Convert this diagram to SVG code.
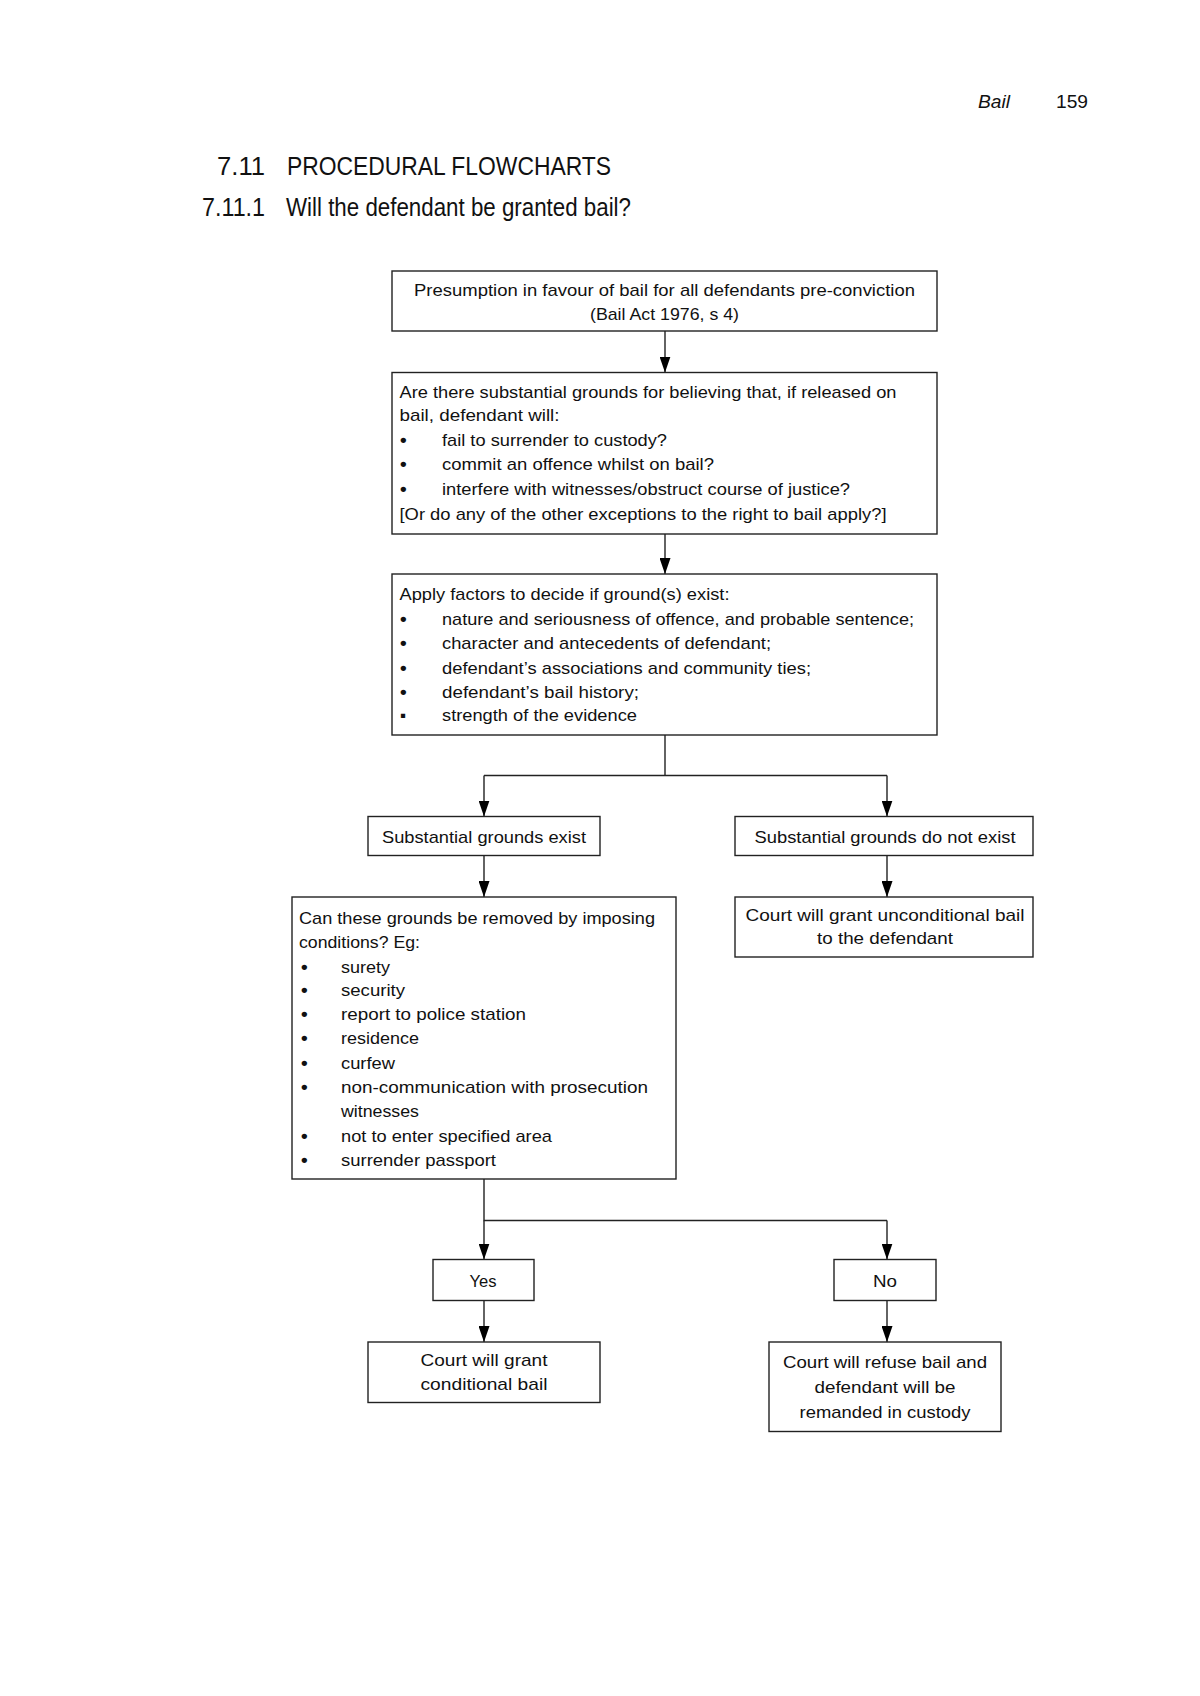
<svg xmlns="http://www.w3.org/2000/svg" width="1200" height="1696" viewBox="0 0 1200 1696">
<defs>
<marker id="ah" markerWidth="16" markerHeight="11" refX="16" refY="5.5" orient="auto" markerUnits="userSpaceOnUse" viewBox="0 0 16 11">
<path d="M0,0 L16,5.5 L0,11 Z" fill="#000"/>
</marker>
</defs>
<style>
text{font-family:"Liberation Sans","DejaVu Sans",sans-serif;fill:#111;}
.t{font-size:17px;}
.c{text-anchor:middle;}
.h{font-size:25px;}
.b{font-size:19px;font-weight:bold;}
.box{fill:#fff;stroke:#222;stroke-width:1.4;}
.ln{fill:none;stroke:#222;stroke-width:1.4;}
.arr{fill:none;stroke:#222;stroke-width:1.4;marker-end:url(#ah);}
</style>
<rect width="1200" height="1696" fill="#fff"/>
<g id="header">
<text x="978" y="108" style="font-style:italic;font-size:19px" textLength="32" lengthAdjust="spacingAndGlyphs">Bail</text>
<text x="1056" y="108" style="font-size:19px" textLength="32" lengthAdjust="spacingAndGlyphs">159</text>
<text x="217" y="175" class="h" textLength="48" lengthAdjust="spacingAndGlyphs">7.11</text>
<text x="287" y="175" class="h" textLength="324" lengthAdjust="spacingAndGlyphs">PROCEDURAL FLOWCHARTS</text>
<text x="202" y="216" class="h" textLength="63" lengthAdjust="spacingAndGlyphs">7.11.1</text>
<text x="286" y="216" class="h" textLength="345" lengthAdjust="spacingAndGlyphs">Will the defendant be granted bail?</text>
</g>
<g id="connectors">
<line class="arr" x1="665" y1="331" x2="665" y2="372.5"/>
<line class="arr" x1="665" y1="534" x2="665" y2="574"/>
<polyline class="ln" points="665,735 665,775.5"/>
<polyline class="ln" points="484,775.5 887,775.5"/>
<line class="arr" x1="484" y1="775.5" x2="484" y2="816.5"/>
<line class="arr" x1="887" y1="775.5" x2="887" y2="816.5"/>
<line class="arr" x1="484" y1="855.5" x2="484" y2="897"/>
<line class="arr" x1="887" y1="855.5" x2="887" y2="897"/>
<polyline class="ln" points="484,1179 484,1220.5 887,1220.5"/>
<line class="arr" x1="484" y1="1220.5" x2="484" y2="1259.5"/>
<line class="arr" x1="887" y1="1220.5" x2="887" y2="1259.5"/>
<line class="arr" x1="484" y1="1300.5" x2="484" y2="1342"/>
<line class="arr" x1="887" y1="1300.5" x2="887" y2="1342"/>
</g>
<g id="n1">
<rect class="box" x="392" y="271" width="545" height="60"/>
<text class="t c" x="664.5" y="296" textLength="501" lengthAdjust="spacingAndGlyphs">Presumption in favour of bail for all defendants pre-conviction</text>
<text class="t c" x="664.5" y="320" textLength="149" lengthAdjust="spacingAndGlyphs">(Bail Act 1976, s 4)</text>
</g>
<g id="n2">
<rect class="box" x="392" y="372.5" width="545" height="161.5"/>
<text class="t" x="399.5" y="397.5" textLength="497" lengthAdjust="spacingAndGlyphs">Are there substantial grounds for believing that, if released on</text>
<text class="t" x="399.5" y="421" textLength="160" lengthAdjust="spacingAndGlyphs">bail, defendant will:</text>
<text class="b" x="400" y="446">•</text><text class="t" x="442" y="446" textLength="225" lengthAdjust="spacingAndGlyphs">fail to surrender to custody?</text>
<text class="b" x="400" y="470">•</text><text class="t" x="442" y="470" textLength="272" lengthAdjust="spacingAndGlyphs">commit an offence whilst on bail?</text>
<text class="b" x="400" y="495">•</text><text class="t" x="442" y="495" textLength="408" lengthAdjust="spacingAndGlyphs">interfere with witnesses/obstruct course of justice?</text>
<text class="t" x="399.5" y="520" textLength="487" lengthAdjust="spacingAndGlyphs">[Or do any of the other exceptions to the right to bail apply?]</text>
</g>
<g id="n3">
<rect class="box" x="392" y="574" width="545" height="161"/>
<text class="t" x="399.5" y="600" textLength="330" lengthAdjust="spacingAndGlyphs">Apply factors to decide if ground(s) exist:</text>
<text class="b" x="400" y="625">•</text><text class="t" x="442" y="625" textLength="472" lengthAdjust="spacingAndGlyphs">nature and seriousness of offence, and probable sentence;</text>
<text class="b" x="400" y="649">•</text><text class="t" x="442" y="649" textLength="329" lengthAdjust="spacingAndGlyphs">character and antecedents of defendant;</text>
<text class="b" x="400" y="673.5">•</text><text class="t" x="442" y="673.5" textLength="369" lengthAdjust="spacingAndGlyphs">defendant’s associations and community ties;</text>
<text class="b" x="400" y="697.5">•</text><text class="t" x="442" y="697.5" textLength="197" lengthAdjust="spacingAndGlyphs">defendant’s bail history;</text>
<text class="t" x="400" y="721">▪</text><text class="t" x="442" y="721" textLength="195" lengthAdjust="spacingAndGlyphs">strength of the evidence</text>
</g>
<g id="n4">
<rect class="box" x="368" y="816.5" width="232" height="39"/>
<text class="t c" x="484" y="842.5" textLength="204" lengthAdjust="spacingAndGlyphs">Substantial grounds exist</text>
</g>
<g id="n5">
<rect class="box" x="735" y="816.5" width="298" height="39"/>
<text class="t c" x="885" y="842.5" textLength="261" lengthAdjust="spacingAndGlyphs">Substantial grounds do not exist</text>
</g>
<g id="n6">
<rect class="box" x="292" y="897" width="384" height="282"/>
<text class="t" x="299" y="924" textLength="356" lengthAdjust="spacingAndGlyphs">Can these grounds be removed by imposing</text>
<text class="t" x="299" y="947.5" textLength="121" lengthAdjust="spacingAndGlyphs">conditions? Eg:</text>
<text class="b" x="301" y="972.5">•</text><text class="t" x="341" y="972.5" textLength="49" lengthAdjust="spacingAndGlyphs">surety</text>
<text class="b" x="301" y="996">•</text><text class="t" x="341" y="996" textLength="64" lengthAdjust="spacingAndGlyphs">security</text>
<text class="b" x="301" y="1020">•</text><text class="t" x="341" y="1020" textLength="185" lengthAdjust="spacingAndGlyphs">report to police station</text>
<text class="b" x="301" y="1044">•</text><text class="t" x="341" y="1044" textLength="78" lengthAdjust="spacingAndGlyphs">residence</text>
<text class="b" x="301" y="1069">•</text><text class="t" x="341" y="1069" textLength="54" lengthAdjust="spacingAndGlyphs">curfew</text>
<text class="b" x="301" y="1093">•</text><text class="t" x="341" y="1093" textLength="307" lengthAdjust="spacingAndGlyphs">non-communication with prosecution</text>
<text class="t" x="341" y="1116.5" textLength="78" lengthAdjust="spacingAndGlyphs">witnesses</text>
<text class="b" x="301" y="1141.5">•</text><text class="t" x="341" y="1141.5" textLength="211" lengthAdjust="spacingAndGlyphs">not to enter specified area</text>
<text class="b" x="301" y="1166">•</text><text class="t" x="341" y="1166" textLength="155" lengthAdjust="spacingAndGlyphs">surrender passport</text>
</g>
<g id="n7">
<rect class="box" x="735" y="897" width="298" height="60"/>
<text class="t c" x="885" y="920.5" textLength="279" lengthAdjust="spacingAndGlyphs">Court will grant unconditional bail</text>
<text class="t c" x="885" y="944" textLength="136" lengthAdjust="spacingAndGlyphs">to the defendant</text>
</g>
<g id="n8">
<rect class="box" x="433" y="1259.5" width="101" height="41"/>
<text class="t c" x="483" y="1286.5" textLength="27" lengthAdjust="spacingAndGlyphs">Yes</text>
</g>
<g id="n9">
<rect class="box" x="834" y="1259.5" width="102" height="41"/>
<text class="t c" x="885" y="1286.5" textLength="24" lengthAdjust="spacingAndGlyphs">No</text>
</g>
<g id="n10">
<rect class="box" x="368" y="1342" width="232" height="60.5"/>
<text class="t c" x="484" y="1365.5" textLength="127" lengthAdjust="spacingAndGlyphs">Court will grant</text>
<text class="t c" x="484" y="1389.5" textLength="127" lengthAdjust="spacingAndGlyphs">conditional bail</text>
</g>
<g id="n11">
<rect class="box" x="769" y="1342" width="232" height="89.5"/>
<text class="t c" x="885" y="1368" textLength="204" lengthAdjust="spacingAndGlyphs">Court will refuse bail and</text>
<text class="t c" x="885" y="1392.5" textLength="141" lengthAdjust="spacingAndGlyphs">defendant will be</text>
<text class="t c" x="885" y="1417.5" textLength="171" lengthAdjust="spacingAndGlyphs">remanded in custody</text>
</g>
</svg>
